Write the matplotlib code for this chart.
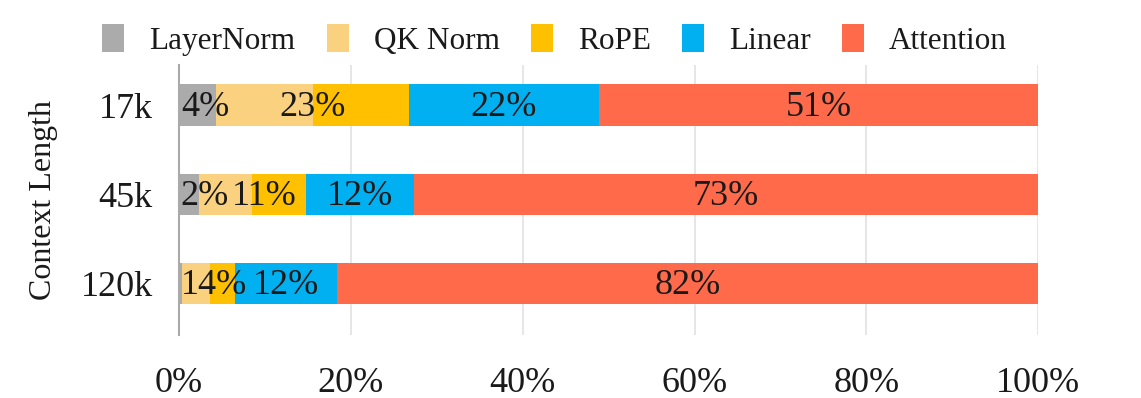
import numpy as np
import matplotlib
matplotlib.use('Agg')
import matplotlib.pyplot as plt

plt.rcParams['font.family'] = ['Liberation Serif', 'DejaVu Serif']

categories = ['17k', '45k', '120k']
series = ['LayerNorm', 'QK Norm', 'RoPE', 'Linear', 'Attention']
layernorm = [4.3, 2.3, 0.3]
qk_norm = [11.3, 6.2, 3.3]
rope = [11.1, 6.3, 2.9]
linear = [22.2, 12.5, 11.9]
attention = [51.1, 72.7, 81.6]

# labels as printed on the bars, and which segments each one spans
bar_labels = [['4%', '23%', '22%', '51%'],
              ['2%', '11%', '12%', '73%'],
              ['14%', '12%', '82%']]
label_groups = [[[0], [1, 2], [3], [4]],
                [[0], [1, 2], [3], [4]],
                [[0, 1, 2], [3], [4]]]

colors = ['#ABABAB', '#FAD27F', '#FFC000', '#00B0F0', '#FF6A4A']

data = np.array([layernorm, qk_norm, rope, linear, attention])
y = np.arange(len(categories))

fig = plt.figure(figsize=(11.41, 3.98), dpi=100)
ax = fig.add_axes([0.157, 0.158, 0.753, 0.679])

left = np.zeros(len(categories))
for i, name in enumerate(series):
    ax.barh(y, data[i], left=left, height=0.47, color=colors[i],
            label=name, zorder=3)
    left += data[i]

ax.set_xlim(0, 100)
ax.set_ylim(2.58, -0.455)
ax.set_xticks([0, 20, 40, 60, 80, 100])
ax.set_xticklabels(['0%', '20%', '40%', '60%', '80%', '100%'])
ax.set_yticks(y)
ax.set_yticklabels(categories)
ax.tick_params(axis='x', length=0, pad=23, labelsize=26, labelcolor='#1a1a1a')
ax.tick_params(axis='y', length=0, pad=19, labelsize=26, labelcolor='#1a1a1a')
ax.grid(axis='x', color='#E2E2E2', linewidth=1.2, zorder=0)
for s in ['top', 'right', 'bottom']:
    ax.spines[s].set_visible(False)
ax.spines['left'].set_color('#AAAAAA')
ax.spines['left'].set_linewidth(1.5)
ax.spines['left'].set_zorder(4)
ax.set_ylabel('Context Length', fontsize=23, labelpad=16, color='#1a1a1a')

# bar labels: centred on their segments, pushed right if they collide
fig.canvas.draw()
renderer = fig.canvas.get_renderer()
starts = np.vstack([np.zeros(len(categories)), np.cumsum(data, axis=0)[:-1]])
for r in range(len(categories)):
    prev_right = None
    for txt, grp in zip(bar_labels[r], label_groups[r]):
        a = starts[grp[0], r]
        b = starts[grp[-1], r] + data[grp[-1], r]
        t = ax.text((a + b) / 2, r + 0.02, txt, ha='center', va='center',
                    fontsize=26, color='#1a1a1a', zorder=5)
        bb = t.get_window_extent(renderer)
        x0 = ax.transData.transform((0.2, 0))[0]
        shift = 0
        if bb.x0 < x0:
            shift = x0 - bb.x0
        if prev_right is not None and bb.x0 + shift < prev_right + 3:
            shift = prev_right + 3 - bb.x0
        if shift:
            px = ax.transData.transform(((a + b) / 2, 0))[0] + shift
            t.set_x(ax.transData.inverted().transform((px, 0))[0])
        prev_right = bb.x1 + shift

ax.legend(loc='upper center', bbox_to_anchor=(0.437, 1.255), ncol=5,
          frameon=False, fontsize=22.5, handlelength=0.7, handleheight=1.0,
          columnspacing=1.0, handletextpad=0.8, labelcolor='#1a1a1a')

fig.savefig('out.png', dpi=100)
